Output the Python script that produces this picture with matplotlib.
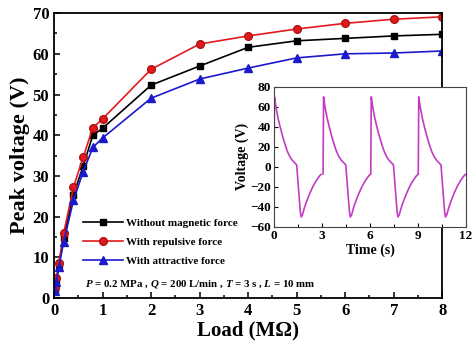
import numpy as np
import matplotlib
matplotlib.use('Agg')
import matplotlib.pyplot as plt
from matplotlib.ticker import MultipleLocator

plt.rcParams['font.family'] = 'Liberation Serif'
plt.rcParams['font.weight'] = 'bold'
plt.rcParams['axes.labelweight'] = 'bold'
plt.rcParams['mathtext.fontset'] = 'custom'
plt.rcParams['mathtext.rm'] = 'Liberation Serif:bold'
plt.rcParams['mathtext.it'] = 'Liberation Serif:italic:bold'
plt.rcParams['mathtext.bf'] = 'Liberation Serif:bold'

# peak voltage vs load resistance
load = [0.02, 0.05, 0.1, 0.2, 0.4, 0.6, 0.8, 1.0, 2, 3, 4, 5, 6, 7, 8]
v_none = [2.1, 4.4, 8.0, 14.8, 25.3, 32.4, 40.0, 41.7, 52.3, 57.0, 61.6, 63.2, 63.8, 64.4, 64.8]
v_repul = [2.4, 4.9, 8.7, 16.0, 27.2, 34.6, 41.8, 44.0, 56.2, 62.4, 64.4, 66.1, 67.5, 68.5, 69.1]
v_attr = [1.8, 4.0, 7.7, 13.8, 24.0, 31.0, 37.0, 39.3, 49.1, 53.8, 56.5, 59.0, 60.0, 60.2, 60.7]

# one cycle of the output waveform (time after the spike onset, voltage)
cyc_t = [0.0, 0.03, 0.12, 0.25, 0.4, 0.55, 0.7, 0.85, 1.0, 1.15, 1.3, 1.42,
         1.55, 1.65, 1.7, 1.78, 1.9, 2.05, 2.25, 2.45, 2.65, 2.85, 2.95]
cyc_v = [-7, 70, 60, 49, 39, 30, 22, 15, 10, 6.5, 4, 2,
         -25, -45, -50, -48, -41, -34, -26, -19, -13.5, -9, -7.5]
onsets = [0.0, 3.07, 6.05, 9.02]

fig = plt.figure(figsize=(4.74, 3.46), dpi=100)
ax = fig.add_axes([0.114, 0.139, 0.819, 0.823])

ax.plot(load, v_none, '-s', color='black', ms=5, lw=1.2, label='Without magnetic force')
ax.plot(load, v_repul, '-o', color='#E31A1C', mec='#B01010', ms=5.5, lw=1.2, label='With repulsive force')
ax.plot(load, v_attr, '-^', color='#1A1ACC', ms=5.5, lw=1.2, label='With attractive force')

ax.set_xlim(0, 8)
ax.set_ylim(0, 70)
ax.xaxis.set_major_locator(MultipleLocator(1))
ax.xaxis.set_minor_locator(MultipleLocator(0.5))
ax.yaxis.set_major_locator(MultipleLocator(10))
ax.yaxis.set_minor_locator(MultipleLocator(5))
ax.tick_params(which='both', direction='in', labelsize=12, width=1.1)
ax.tick_params(which='major', length=4.5)
ax.tick_params(which='minor', length=2.5)
for lbl in ax.get_xticklabels() + ax.get_yticklabels():
    lbl.set_fontweight('bold')
for s in ax.spines.values():
    s.set_linewidth(1.3)
ax.set_xlabel('Load (M\u03a9)', fontsize=15, fontweight='bold', labelpad=1)
ax.set_ylabel('Peak voltage (V)', fontsize=16, fontweight='bold', labelpad=2)

leg = ax.legend(loc='upper left', bbox_to_anchor=(0.06, 0.30), frameon=False,
                prop={'size': 8, 'weight': 'bold'}, handlelength=3.6, labelspacing=0.85,
                borderpad=0, handletextpad=0.3)
ax.text(0.08, 0.04, '$P$ = 0.2 MPa , $Q$ = 200 L/min , $T$ = 3 s , $L$ = 10 mm',
        transform=ax.transAxes, fontsize=7.8, fontweight='bold')

# inset with the voltage waveform
ins = fig.add_axes([0.578, 0.344, 0.405, 0.405])
ins.set_facecolor('white')
for t0 in onsets:
    tt = [t0 + t for t in cyc_t]
    ins.plot(tt, cyc_v, color='#C23BC2', lw=1.2)
ins.set_xlim(0, 12)
ins.set_ylim(-60, 80)
ins.xaxis.set_major_locator(MultipleLocator(3))
ins.xaxis.set_minor_locator(MultipleLocator(1.5))
ins.yaxis.set_major_locator(MultipleLocator(20))
ins.tick_params(which='both', direction='in', labelsize=9.5, width=0.8, pad=2)
ins.tick_params(which='major', length=3)
ins.tick_params(which='minor', length=2)
for lbl in ins.get_xticklabels() + ins.get_yticklabels():
    lbl.set_fontweight('bold')
for s in ins.spines.values():
    s.set_linewidth(0.8)
    s.set_color('#444444')
ins.set_xlabel('Time (s)', fontsize=10, fontweight='bold', labelpad=1)
ins.set_ylabel('Voltage (V)', fontsize=10, fontweight='bold', labelpad=1)

fig.savefig('out.png', dpi=100)
